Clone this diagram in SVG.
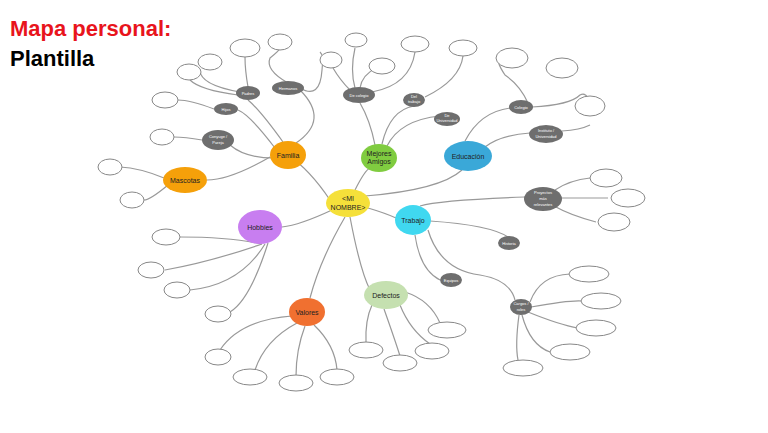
<svg xmlns="http://www.w3.org/2000/svg" width="768" height="433" viewBox="0 0 768 433">
<style>
.c{fill:none;stroke:#999;stroke-width:1.2}
.w{fill:#fff;stroke:#888;stroke-width:1}
.g{fill:#6e6e6e}
.gt{font-family:"Liberation Sans",sans-serif;font-size:4px;fill:#fff;text-anchor:middle}
.t{font-family:"Liberation Sans",sans-serif;font-size:7px;fill:#222;text-anchor:middle}
</style>
<rect width="768" height="433" fill="#fff"/>
<text x="10" y="36" font-family="Liberation Sans,sans-serif" font-size="22" font-weight="bold" fill="#e8141c">Mapa personal:</text>
<text x="10" y="66" font-family="Liberation Sans,sans-serif" font-size="22" font-weight="bold" fill="#000">Plantilla</text>
<g id="connectors">
<path class="c" d="M330,200 Q310,170 288,155"/>
<path class="c" d="M270,157 Q230,180 207,180"/>
<path class="c" d="M332,210 Q300,225 282,227"/>
<path class="c" d="M345,217 Q320,260 310,298"/>
<path class="c" d="M350,217 Q360,270 370,290"/>
<path class="c" d="M368,208 Q385,213 396,218"/>
<path class="c" d="M365,196 Q440,190 462,170"/>
<path class="c" d="M355,190 Q365,170 370,168"/>
<path class="c" d="M283,142 Q260,110 248,100"/>
<path class="c" d="M296,143 Q330,120 300,90"/>
<path class="c" d="M275,148 Q250,115 238,110"/>
<path class="c" d="M274,158 Q245,158 230,145"/>
<path class="c" d="M288,83 Q265,70 270,58 Q280,50 280,48"/>
<path class="c" d="M300,88 Q320,100 322,70 Q324,55 320,52"/>
<path class="c" d="M240,92 Q200,85 200,70"/>
<path class="c" d="M238,95 Q200,90 190,80"/>
<path class="c" d="M248,87 Q245,70 245,57"/>
<path class="c" d="M214,109 Q190,100 178,100"/>
<path class="c" d="M202,140 Q185,137 174,137"/>
<path class="c" d="M164,178 Q140,168 120,167"/>
<path class="c" d="M168,185 Q150,200 144,200"/>
<path class="c" d="M262,244 Q230,237 180,237"/>
<path class="c" d="M262,244 Q210,262 165,270"/>
<path class="c" d="M265,244 Q240,285 190,290"/>
<path class="c" d="M268,243 Q250,300 230,312"/>
<path class="c" d="M292,316 Q240,320 220,350"/>
<path class="c" d="M297,323 Q265,340 255,370"/>
<path class="c" d="M305,326 Q296,350 296,376"/>
<path class="c" d="M314,325 Q335,345 337,370"/>
<path class="c" d="M372,305 Q365,320 366,343"/>
<path class="c" d="M384,309 Q395,340 400,356"/>
<path class="c" d="M400,305 Q410,330 430,344"/>
<path class="c" d="M405,292 Q430,300 440,323"/>
<path class="c" d="M375,145 Q370,120 360,103"/>
<path class="c" d="M382,144 Q390,110 414,106"/>
<path class="c" d="M387,146 Q400,120 440,116"/>
<path class="c" d="M350,90 Q340,80 333,68"/>
<path class="c" d="M355,88 Q350,70 355,48"/>
<path class="c" d="M360,88 Q362,75 376,68"/>
<path class="c" d="M372,92 Q410,85 415,52"/>
<path class="c" d="M425,97 Q460,80 463,56"/>
<path class="c" d="M465,141 Q480,112 510,108"/>
<path class="c" d="M485,147 Q500,135 530,133"/>
<path class="c" d="M528,103 Q520,85 505,75 Q495,60 500,58"/>
<path class="c" d="M532,107 Q570,105 580,95 Q590,90 590,115"/>
<path class="c" d="M562,131 Q580,130 590,125"/>
<path class="c" d="M420,206 Q440,200 525,197"/>
<path class="c" d="M430,221 Q490,225 508,237"/>
<path class="c" d="M415,235 Q420,270 440,280"/>
<path class="c" d="M428,230 Q440,270 480,275 Q510,280 515,300"/>
<path class="c" d="M555,190 Q570,180 590,178"/>
<path class="c" d="M562,198 L608,198"/>
<path class="c" d="M556,207 Q570,215 596,222"/>
<path class="c" d="M530,302 Q540,275 570,274"/>
<path class="c" d="M531,307 Q570,300 582,301"/>
<path class="c" d="M528,312 Q560,325 578,328"/>
<path class="c" d="M522,315 Q530,345 550,352"/>
<path class="c" d="M519,315 Q515,345 518,360"/>
</g>
<g id="white-nodes">
<ellipse class="w" cx="245" cy="48" rx="15" ry="9"/>
<ellipse class="w" cx="280" cy="42" rx="12" ry="8"/>
<ellipse class="w" cx="210" cy="62" rx="12" ry="8"/>
<ellipse class="w" cx="189" cy="72" rx="12" ry="8"/>
<ellipse class="w" cx="165" cy="100" rx="13" ry="8"/>
<ellipse class="w" cx="162" cy="137" rx="12" ry="8"/>
<ellipse class="w" cx="110" cy="167" rx="12" ry="8"/>
<ellipse class="w" cx="132" cy="200" rx="12" ry="8"/>
<ellipse class="w" cx="166" cy="237" rx="14" ry="8"/>
<ellipse class="w" cx="151" cy="270" rx="13" ry="8"/>
<ellipse class="w" cx="177" cy="290" rx="13" ry="8"/>
<ellipse class="w" cx="218" cy="314" rx="13" ry="8"/>
<ellipse class="w" cx="218" cy="357" rx="13" ry="8"/>
<ellipse class="w" cx="250" cy="377" rx="17" ry="8"/>
<ellipse class="w" cx="296" cy="383" rx="17" ry="8"/>
<ellipse class="w" cx="337" cy="377" rx="17" ry="8"/>
<ellipse class="w" cx="366" cy="350" rx="17" ry="8"/>
<ellipse class="w" cx="400" cy="363" rx="17" ry="8"/>
<ellipse class="w" cx="432" cy="351" rx="17" ry="8"/>
<ellipse class="w" cx="447" cy="330" rx="19" ry="8"/>
<ellipse class="w" cx="589" cy="274" rx="20" ry="8"/>
<ellipse class="w" cx="601" cy="301" rx="20" ry="8"/>
<ellipse class="w" cx="596" cy="328" rx="20" ry="8"/>
<ellipse class="w" cx="570" cy="352" rx="20" ry="8"/>
<ellipse class="w" cx="523" cy="368" rx="20" ry="8"/>
<ellipse class="w" cx="606" cy="178" rx="16" ry="9"/>
<ellipse class="w" cx="628" cy="198" rx="17" ry="9"/>
<ellipse class="w" cx="614" cy="222" rx="16" ry="9"/>
<ellipse class="w" cx="512" cy="58" rx="16" ry="10"/>
<ellipse class="w" cx="562" cy="68" rx="16" ry="10"/>
<ellipse class="w" cx="590" cy="106" rx="15" ry="10"/>
<ellipse class="w" cx="356" cy="40" rx="11" ry="7"/>
<ellipse class="w" cx="331" cy="60" rx="11" ry="8"/>
<ellipse class="w" cx="382" cy="66" rx="13" ry="8"/>
<ellipse class="w" cx="415" cy="44" rx="14" ry="8"/>
<ellipse class="w" cx="463" cy="48" rx="14" ry="8"/>
</g>
<g id="gray-nodes">
<g id="hermanos"><ellipse class="g" cx="288" cy="88" rx="16" ry="7"/><text class="gt" x="288" y="89.5">Hermanos</text></g>
<g id="padres"><ellipse class="g" cx="248" cy="93" rx="12" ry="7"/><text class="gt" x="248" y="94.5">Padres</text></g>
<g id="hijos"><ellipse class="g" cx="226" cy="109" rx="12" ry="6"/><text class="gt" x="226" y="110.5">Hijos</text></g>
<g id="conyuge"><ellipse class="g" cx="218" cy="140" rx="16" ry="10"/><text class="gt" x="218" y="138">Conyuge /</text><text class="gt" x="218" y="144">Pareja</text></g>
<g id="decolegio"><ellipse class="g" cx="359" cy="95" rx="16" ry="8"/><text class="gt" x="359" y="96.5">De colegio</text></g>
<g id="deltrabajo"><ellipse class="g" cx="414" cy="100" rx="11" ry="7"/><text class="gt" x="414" y="98">Del</text><text class="gt" x="414" y="103">trabajo</text></g>
<g id="deuniv"><ellipse class="g" cx="447" cy="119" rx="13" ry="7"/><text class="gt" x="447" y="117">De</text><text class="gt" x="447" y="122">Universidad</text></g>
<g id="colegio"><ellipse class="g" cx="521" cy="107" rx="12" ry="7"/><text class="gt" x="521" y="108.5">Colegio</text></g>
<g id="instituto"><ellipse class="g" cx="546" cy="134" rx="17" ry="9"/><text class="gt" x="546" y="132">Instituto /</text><text class="gt" x="546" y="138">Universidad</text></g>
<g id="proyectos"><ellipse class="g" cx="543" cy="199" rx="19" ry="12"/><text class="gt" x="543" y="194">Proyectos</text><text class="gt" x="543" y="200">más</text><text class="gt" x="543" y="206">relevantes</text></g>
<g id="historia"><ellipse class="g" cx="509" cy="243" rx="11" ry="7"/><text class="gt" x="509" y="244.5">Historia</text></g>
<g id="equipos"><ellipse class="g" cx="451" cy="280" rx="11" ry="7"/><text class="gt" x="451" y="281.5">Equipos</text></g>
<g id="cargos"><ellipse class="g" cx="521" cy="307" rx="11" ry="8"/><text class="gt" x="521" y="305">Cargos /</text><text class="gt" x="521" y="311">roles</text></g>
</g>
<g id="center"><ellipse cx="348" cy="203" rx="22" ry="14" fill="#f5e03a"/><text class="t" x="348" y="201">&lt;MI</text><text class="t" x="348" y="210">NOMBRE&gt;</text></g>
<g id="familia"><ellipse cx="288" cy="155" rx="18" ry="14" fill="#f5a00a"/><text class="t" x="288" y="157.5">Familia</text></g>
<g id="mascotas"><ellipse cx="185" cy="180" rx="22" ry="13" fill="#f5a00a"/><text class="t" x="185" y="182.5">Mascotas</text></g>
<g id="hobbies"><ellipse cx="260" cy="227" rx="22" ry="17" fill="#c87ef0"/><text class="t" x="260" y="229.5">Hobbies</text></g>
<g id="valores"><ellipse cx="307" cy="312" rx="18" ry="14" fill="#f07030"/><text class="t" x="307" y="314.5">Valores</text></g>
<g id="defectos"><ellipse cx="386" cy="295" rx="22" ry="14" fill="#c5e0b0"/><text class="t" x="386" y="297.5">Defectos</text></g>
<g id="trabajo"><ellipse cx="413" cy="220" rx="18" ry="15" fill="#40d8f0"/><text class="t" x="413" y="222.5">Trabajo</text></g>
<g id="educacion"><ellipse cx="468" cy="156" rx="24" ry="15" fill="#3aa8d8"/><text class="t" x="468" y="158.5">Educación</text></g>
<g id="amigos"><ellipse cx="379" cy="158" rx="18" ry="14" fill="#80cc40"/><text class="t" x="379" y="156">Mejores</text><text class="t" x="379" y="164">Amigos</text></g>
</svg>
